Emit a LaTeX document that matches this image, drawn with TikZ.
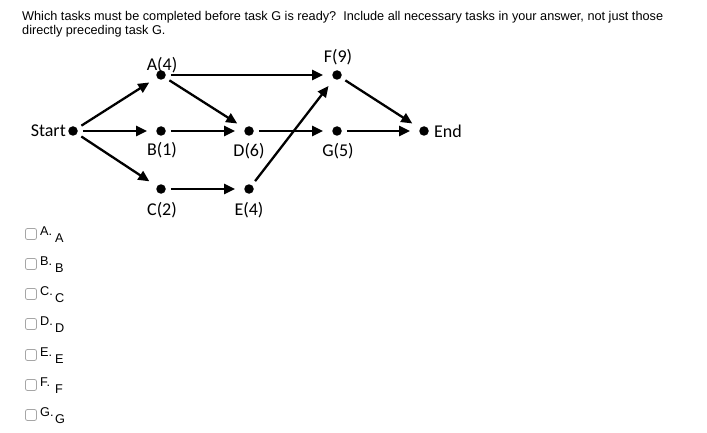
\documentclass[tikz,border=0pt]{standalone}
\usepackage{fontspec}
\setmainfont{Liberation Sans}
\newfontfamily\lbl{Carlito}
\usetikzlibrary{arrows.meta}
\begin{document}
\begin{tikzpicture}[x=1pt,y=-1pt,
  dot/.style={circle,fill=black,inner sep=0pt,minimum size=9.5pt},
  arr/.style={line width=2.3pt,-{Triangle[length=11pt,width=10pt]},shorten >=9pt,shorten <=5pt},
  lab/.style={font=\lbl\fontsize{18}{20}\selectfont,inner sep=0pt},
  q/.style={font=\fontsize{12.7}{14}\selectfont,inner sep=0pt,anchor=west},
  cb/.style={draw=gray!70,rounded corners=2pt,minimum size=11pt,inner sep=0pt,line width=0.8pt},
  opt/.style={font=\fontsize{12.7}{14}\selectfont,inner sep=0pt,anchor=west}]
\useasboundingbox (0,0) rectangle (707,433);
\node[q] (q1) at (22,17) {Which tasks must be completed before task G is ready?\ \ Include all necessary tasks in your answer, not just those};
\node[q] (q2) at (22,31) {directly preceding task G.};
\node[dot] (S) at (73,131) {};
\node[dot] (A) at (161,75) {};
\node[dot] (B) at (161,131) {};
\node[dot] (C) at (161,189) {};
\node[dot] (D) at (249,131) {};
\node[dot] (E) at (249,189) {};
\node[dot] (F) at (337,75) {};
\node[dot] (G) at (337,131) {};
\node[dot] (N) at (424,131) {};
\node[lab,anchor=east] (ls) at (66,131) {Start};
\node[lab,anchor=west] (le) at (434,131) {End};
\node[lab] (la) at (162,65) {A(4)};
\node[lab] (lf) at (338,57) {F(9)};
\node[lab] (lb) at (162,150) {B(1)};
\node[lab] (ld) at (249,151) {D(6)};
\node[lab] (lg) at (338,151) {G(5)};
\node[lab] (lc) at (162,210) {C(2)};
\node[lab] (lE) at (249,210) {E(4)};
\draw[arr] (S) -- (A);
\draw[arr] (S) -- (B);
\draw[arr] (S) -- (C);
\draw[arr] (A) -- (F);
\draw[arr] (A) -- (D);
\draw[arr] (B) -- (D);
\draw[arr] (C) -- (E);
\draw[arr] (D) -- (G);
\draw[arr] (E) -- (F);
\draw[arr] (F) -- (N);
\draw[arr] (G) -- (N);
\foreach \l/\y in {A/234,B/264,C/294,D/324,E/355,F/385,G/415}{
  \node[cb] (cb\l) at (31,\y) {};
  \node[opt] (o\l) at (40,\y-3) {\l.};
  \node[opt] (p\l) at (55,\y+4) {\l};
}
\end{tikzpicture}
\end{document}
